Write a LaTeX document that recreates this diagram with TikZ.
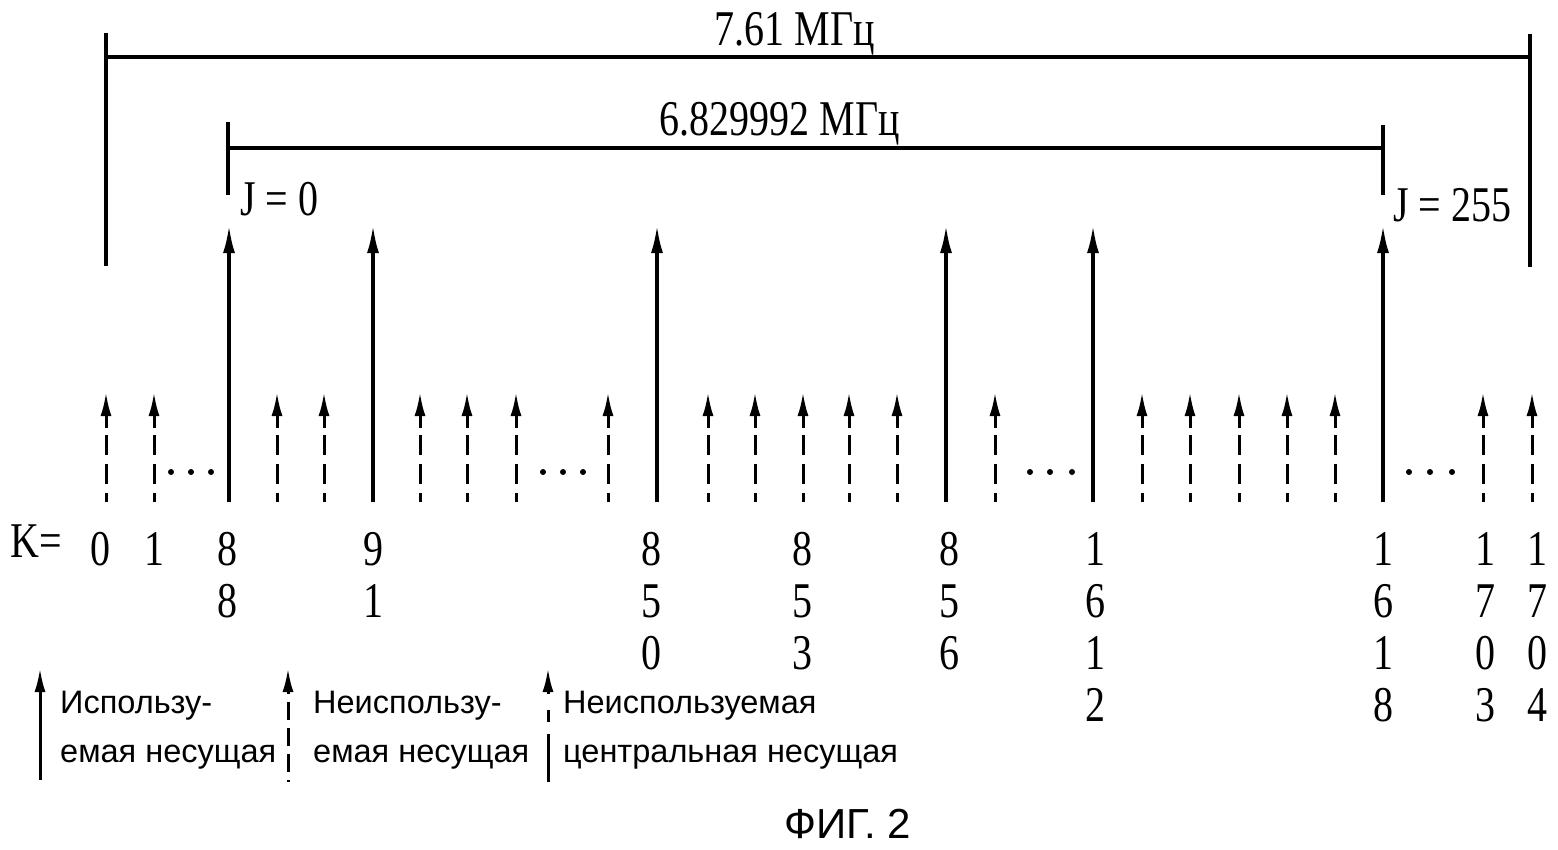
\documentclass[tikz,border=0pt]{standalone}
\usepackage{fontspec}
\setmainfont{Liberation Serif}
\newfontfamily\numfont[FakeStretch=0.8]{Liberation Serif}
\newfontfamily\legfont{Liberation Sans}
\usetikzlibrary{arrows.meta}
\begin{document}
\begin{tikzpicture}[x=1pt,y=-1pt,
  bar/.style={line width=3.4pt},
  usedc/.style={line width=3.4pt,-{Latex[length=28pt,width=12pt]}},
  tipc/.style={line width=3pt,-{Latex[length=24pt,width=11pt]}},
  dashc/.style={line width=3pt,dash pattern=on 20pt off 9pt},
  lbl/.style={font=\numfont\fontsize{50}{50}\selectfont, inner sep=0pt, anchor=base},
  leg/.style={font=\legfont\fontsize{32.5}{32.5}\selectfont, inner sep=0pt, anchor=base west},
  dotn/.style={circle, fill, inner sep=0pt, minimum size=6pt}
]
\useasboundingbox (0,0) rectangle (1558,849);

% top dimension bars
\coordinate (a1) at (106,33); \coordinate (a2) at (106,266);
\coordinate (a3) at (1530,34); \coordinate (a4) at (1530,267);
\coordinate (a5) at (106,57); \coordinate (a6) at (1530,57);
\draw[bar] (a1) -- (a2);
\draw[bar] (a3) -- (a4);
\draw[bar] (a5) -- (a6);
\node[lbl] (f1) at (795,45) {7.61 МГц};

\coordinate (b1) at (228,122); \coordinate (b2) at (228,195);
\coordinate (b3) at (1383,125); \coordinate (b4) at (1383,195);
\coordinate (b5) at (228,148); \coordinate (b6) at (1383,148);
\draw[bar] (b1) -- (b2);
\draw[bar] (b3) -- (b4);
\draw[bar] (b5) -- (b6);
\node[lbl] (f2) at (780,135) {6.829992 МГц};

\node[lbl, anchor=base west] (j0) at (240,215) {J = 0};
\node[lbl, anchor=base west] (j255) at (1393,221) {J = 255};

% used carriers
\foreach \x in {229,373,657,946,1093,1383} {
  \coordinate (uB\x) at (\x,502);
  \coordinate (uT\x) at (\x,225);
  \draw[usedc] (uB\x) -- (uT\x);
}

% unused carriers
\foreach \x in {106,154,277,324,420,467,516,608,708,755,803,849,897,995,1142,1190,1239,1287,1335,1483,1532} {
  \coordinate (dT\x) at (\x,392);
  \coordinate (dM\x) at (\x,428);
  \coordinate (dS\x) at (\x,435);
  \coordinate (dB\x) at (\x,502);
  \draw[tipc] (dM\x) -- (dT\x);
  \draw[dashc] (dS\x) -- (dB\x);
}

% dots
\foreach \x in {171,191,211,543,563,583,1030,1050,1072,1409,1430,1452} {
  \node[dotn] (dot\x) at (\x,472) {};
}

% K labels
\node[lbl, anchor=base west] (K) at (10,557) {K=};
\foreach \x/\ds in {100/{0}, 154/{1}, 227/{8,8}, 373/{9,1}, 651/{8,5,0}, 802/{8,5,3}, 949/{8,5,6}, 1095/{1,6,1,2}, 1383/{1,6,1,8}, 1485/{1,7,0,3}, 1537/{1,7,0,4}} {
  \foreach \d [count=\r] in \ds {
    \node[lbl] (n\x-\r) at (\x,{565+52*(\r-1)}) {\d};
  }
}

% legend
\coordinate (l1b) at (40,780); \coordinate (l1t) at (40,668);
\draw[line width=3pt,-{Latex[length=24pt,width=11pt]}] (l1b) -- (l1t);
\node[leg] (t1a) at (60,713) {Использу-};
\node[leg] (t1b) at (60,762) {емая несущая};

\coordinate (l2t) at (288,668); \coordinate (l2m) at (288,694);
\coordinate (l2s) at (288,702); \coordinate (l2b) at (288,782);
\draw[tipc] (l2m) -- (l2t);
\draw[line width=3pt,dash pattern=on 18pt off 8pt] (l2s) -- (l2b);
\node[leg] (t2a) at (313,713) {Неиспользу-};
\node[leg] (t2b) at (313,762) {емая несущая};

\coordinate (l3t) at (548,668); \coordinate (l3m) at (548,694);
\coordinate (l3s) at (548,710); \coordinate (l3e) at (548,722);
\coordinate (l3u) at (548,734); \coordinate (l3b) at (548,782);
\draw[tipc] (l3m) -- (l3t);
\draw[line width=3pt] (l3s) -- (l3e);
\draw[line width=3pt] (l3u) -- (l3b);
\node[leg] (t3a) at (563,713) {Неиспользуемая};
\node[leg] (t3b) at (563,762) {центральная несущая};

\node[font=\legfont\fontsize{42}{42}\selectfont, inner sep=0pt, anchor=base] (fig) at (848,838) {ФИГ. 2};
\end{tikzpicture}
\end{document}
